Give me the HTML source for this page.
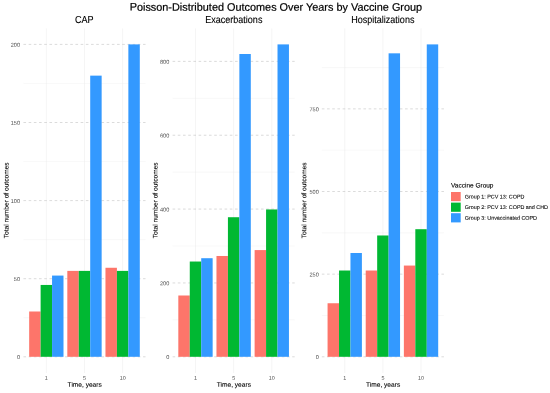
<!DOCTYPE html>
<html><head><meta charset="utf-8"><title>Poisson-Distributed Outcomes Over Years by Vaccine Group</title>
<style>html,body{margin:0;padding:0;background:#fff}svg{display:block}</style></head>
<body>
<svg width="550" height="393" viewBox="0 0 550 393" font-family="Liberation Sans, Arial, sans-serif" text-rendering="geometricPrecision">
<rect width="550" height="393" fill="#fff"/>
<text transform="translate(275.90,10.70) rotate(0.03) scale(0.999,1)" font-size="10.9" text-anchor="middle" fill="#000" stroke="#000" stroke-width="0.2">Poisson-Distributed Outcomes Over Years by Vaccine Group</text>
<line x1="23.45" x2="145.53" y1="317.75" y2="317.75" stroke="#ebebeb" stroke-width="0.35"/>
<line x1="23.45" x2="145.53" y1="239.65" y2="239.65" stroke="#ebebeb" stroke-width="0.35"/>
<line x1="23.45" x2="145.53" y1="161.55" y2="161.55" stroke="#ebebeb" stroke-width="0.35"/>
<line x1="23.45" x2="145.53" y1="83.45" y2="83.45" stroke="#ebebeb" stroke-width="0.35"/>
<line x1="46.34" x2="46.34" y1="28.4" y2="373.0" stroke="#ebebeb" stroke-width="0.5"/>
<line x1="84.49" x2="84.49" y1="28.4" y2="373.0" stroke="#ebebeb" stroke-width="0.5"/>
<line x1="122.64" x2="122.64" y1="28.4" y2="373.0" stroke="#ebebeb" stroke-width="0.5"/>
<line x1="23.45" x2="145.53" y1="356.80" y2="356.80" stroke="#c2c2c2" stroke-width="0.6" stroke-dasharray="2.6 2.6"/>
<text transform="translate(20.05,359.10) rotate(0.03) scale(0.999,1)" font-size="5.6" text-anchor="end" fill="#4d4d4d">0</text>
<line x1="23.45" x2="145.53" y1="278.70" y2="278.70" stroke="#c2c2c2" stroke-width="0.6" stroke-dasharray="2.6 2.6"/>
<text transform="translate(20.05,281.00) rotate(0.03) scale(0.999,1)" font-size="5.6" text-anchor="end" fill="#4d4d4d">50</text>
<line x1="23.45" x2="145.53" y1="200.60" y2="200.60" stroke="#c2c2c2" stroke-width="0.6" stroke-dasharray="2.6 2.6"/>
<text transform="translate(20.05,202.90) rotate(0.03) scale(0.999,1)" font-size="5.6" text-anchor="end" fill="#4d4d4d">100</text>
<line x1="23.45" x2="145.53" y1="122.50" y2="122.50" stroke="#c2c2c2" stroke-width="0.6" stroke-dasharray="2.6 2.6"/>
<text transform="translate(20.05,124.80) rotate(0.03) scale(0.999,1)" font-size="5.6" text-anchor="end" fill="#4d4d4d">150</text>
<line x1="23.45" x2="145.53" y1="44.40" y2="44.40" stroke="#c2c2c2" stroke-width="0.6" stroke-dasharray="2.6 2.6"/>
<text transform="translate(20.05,46.70) rotate(0.03) scale(0.999,1)" font-size="5.6" text-anchor="end" fill="#4d4d4d">200</text>
<rect x="29.17" y="311.50" width="11.44" height="45.30" fill="#FD756A"/>
<rect x="40.62" y="284.95" width="11.44" height="71.85" fill="#00B832"/>
<rect x="52.06" y="275.58" width="11.44" height="81.22" fill="#3399FF"/>
<rect x="67.32" y="270.89" width="11.44" height="85.91" fill="#FD756A"/>
<rect x="78.77" y="270.89" width="11.44" height="85.91" fill="#00B832"/>
<rect x="90.21" y="75.64" width="11.44" height="281.16" fill="#3399FF"/>
<rect x="105.47" y="267.77" width="11.44" height="89.03" fill="#FD756A"/>
<rect x="116.92" y="270.89" width="11.44" height="85.91" fill="#00B832"/>
<rect x="128.36" y="44.40" width="11.44" height="312.40" fill="#3399FF"/>
<text transform="translate(46.34,379.80) rotate(0.03) scale(0.999,1)" font-size="5.4" text-anchor="middle" fill="#4d4d4d">1</text>
<text transform="translate(84.49,379.80) rotate(0.03) scale(0.999,1)" font-size="5.4" text-anchor="middle" fill="#4d4d4d">5</text>
<text transform="translate(122.64,379.80) rotate(0.03) scale(0.999,1)" font-size="5.4" text-anchor="middle" fill="#4d4d4d">10</text>
<text transform="translate(84.69,386.70) rotate(0.03) scale(0.999,1)" font-size="6.6" text-anchor="middle" fill="#000" stroke="#000" stroke-width="0.1">Time, years</text>
<text transform="translate(84.19,23.35) rotate(0.03) scale(0.895,1)" font-size="10.1" text-anchor="middle" fill="#000" stroke="#000" stroke-width="0.12">CAP</text>
<text transform="translate(8.45,200.30) rotate(-89.97) scale(0.999,1)" font-size="6.6" text-anchor="middle" fill="#000" stroke="#000" stroke-width="0.1">Total number of outcomes</text>
<line x1="172.60" x2="294.68" y1="319.87" y2="319.87" stroke="#ebebeb" stroke-width="0.35"/>
<line x1="172.60" x2="294.68" y1="246.02" y2="246.02" stroke="#ebebeb" stroke-width="0.35"/>
<line x1="172.60" x2="294.68" y1="172.17" y2="172.17" stroke="#ebebeb" stroke-width="0.35"/>
<line x1="172.60" x2="294.68" y1="98.31" y2="98.31" stroke="#ebebeb" stroke-width="0.35"/>
<line x1="195.49" x2="195.49" y1="28.4" y2="373.0" stroke="#ebebeb" stroke-width="0.5"/>
<line x1="233.64" x2="233.64" y1="28.4" y2="373.0" stroke="#ebebeb" stroke-width="0.5"/>
<line x1="271.79" x2="271.79" y1="28.4" y2="373.0" stroke="#ebebeb" stroke-width="0.5"/>
<line x1="172.60" x2="294.68" y1="356.80" y2="356.80" stroke="#c2c2c2" stroke-width="0.6" stroke-dasharray="2.6 2.6"/>
<text transform="translate(169.30,359.10) rotate(0.03) scale(0.999,1)" font-size="5.6" text-anchor="end" fill="#4d4d4d">0</text>
<line x1="172.60" x2="294.68" y1="282.95" y2="282.95" stroke="#c2c2c2" stroke-width="0.6" stroke-dasharray="2.6 2.6"/>
<text transform="translate(169.30,285.25) rotate(0.03) scale(0.999,1)" font-size="5.6" text-anchor="end" fill="#4d4d4d">200</text>
<line x1="172.60" x2="294.68" y1="209.09" y2="209.09" stroke="#c2c2c2" stroke-width="0.6" stroke-dasharray="2.6 2.6"/>
<text transform="translate(169.30,211.39) rotate(0.03) scale(0.999,1)" font-size="5.6" text-anchor="end" fill="#4d4d4d">400</text>
<line x1="172.60" x2="294.68" y1="135.24" y2="135.24" stroke="#c2c2c2" stroke-width="0.6" stroke-dasharray="2.6 2.6"/>
<text transform="translate(169.30,137.54) rotate(0.03) scale(0.999,1)" font-size="5.6" text-anchor="end" fill="#4d4d4d">600</text>
<line x1="172.60" x2="294.68" y1="61.39" y2="61.39" stroke="#c2c2c2" stroke-width="0.6" stroke-dasharray="2.6 2.6"/>
<text transform="translate(169.30,63.69) rotate(0.03) scale(0.999,1)" font-size="5.6" text-anchor="end" fill="#4d4d4d">800</text>
<rect x="178.32" y="295.50" width="11.44" height="61.30" fill="#FD756A"/>
<rect x="189.77" y="261.53" width="11.44" height="95.27" fill="#00B832"/>
<rect x="201.21" y="258.21" width="11.44" height="98.59" fill="#3399FF"/>
<rect x="216.47" y="255.99" width="11.44" height="100.81" fill="#FD756A"/>
<rect x="227.92" y="217.22" width="11.44" height="139.58" fill="#00B832"/>
<rect x="239.36" y="54.00" width="11.44" height="302.80" fill="#3399FF"/>
<rect x="254.62" y="250.08" width="11.44" height="106.72" fill="#FD756A"/>
<rect x="266.07" y="209.46" width="11.44" height="147.34" fill="#00B832"/>
<rect x="277.51" y="44.40" width="11.44" height="312.40" fill="#3399FF"/>
<text transform="translate(195.49,379.80) rotate(0.03) scale(0.999,1)" font-size="5.4" text-anchor="middle" fill="#4d4d4d">1</text>
<text transform="translate(233.64,379.80) rotate(0.03) scale(0.999,1)" font-size="5.4" text-anchor="middle" fill="#4d4d4d">5</text>
<text transform="translate(271.79,379.80) rotate(0.03) scale(0.999,1)" font-size="5.4" text-anchor="middle" fill="#4d4d4d">10</text>
<text transform="translate(233.84,386.70) rotate(0.03) scale(0.999,1)" font-size="6.6" text-anchor="middle" fill="#000" stroke="#000" stroke-width="0.1">Time, years</text>
<text transform="translate(233.79,23.35) rotate(0.03) scale(0.895,1)" font-size="10.1" text-anchor="middle" fill="#000" stroke="#000" stroke-width="0.12">Exacerbations</text>
<text transform="translate(157.60,200.30) rotate(-89.97) scale(0.999,1)" font-size="6.6" text-anchor="middle" fill="#000" stroke="#000" stroke-width="0.1">Total number of outcomes</text>
<line x1="321.85" x2="443.93" y1="315.48" y2="315.48" stroke="#ebebeb" stroke-width="0.35"/>
<line x1="321.85" x2="443.93" y1="232.83" y2="232.83" stroke="#ebebeb" stroke-width="0.35"/>
<line x1="321.85" x2="443.93" y1="150.19" y2="150.19" stroke="#ebebeb" stroke-width="0.35"/>
<line x1="321.85" x2="443.93" y1="67.54" y2="67.54" stroke="#ebebeb" stroke-width="0.35"/>
<line x1="344.74" x2="344.74" y1="28.4" y2="373.0" stroke="#ebebeb" stroke-width="0.5"/>
<line x1="382.89" x2="382.89" y1="28.4" y2="373.0" stroke="#ebebeb" stroke-width="0.5"/>
<line x1="421.04" x2="421.04" y1="28.4" y2="373.0" stroke="#ebebeb" stroke-width="0.5"/>
<line x1="321.85" x2="443.93" y1="356.80" y2="356.80" stroke="#c2c2c2" stroke-width="0.6" stroke-dasharray="2.6 2.6"/>
<text transform="translate(318.85,359.10) rotate(0.03) scale(0.999,1)" font-size="5.6" text-anchor="end" fill="#4d4d4d">0</text>
<line x1="321.85" x2="443.93" y1="274.15" y2="274.15" stroke="#c2c2c2" stroke-width="0.6" stroke-dasharray="2.6 2.6"/>
<text transform="translate(318.85,276.45) rotate(0.03) scale(0.999,1)" font-size="5.6" text-anchor="end" fill="#4d4d4d">250</text>
<line x1="321.85" x2="443.93" y1="191.51" y2="191.51" stroke="#c2c2c2" stroke-width="0.6" stroke-dasharray="2.6 2.6"/>
<text transform="translate(318.85,193.81) rotate(0.03) scale(0.999,1)" font-size="5.6" text-anchor="end" fill="#4d4d4d">500</text>
<line x1="321.85" x2="443.93" y1="108.86" y2="108.86" stroke="#c2c2c2" stroke-width="0.6" stroke-dasharray="2.6 2.6"/>
<text transform="translate(318.85,111.16) rotate(0.03) scale(0.999,1)" font-size="5.6" text-anchor="end" fill="#4d4d4d">750</text>
<rect x="327.57" y="303.25" width="11.44" height="53.55" fill="#FD756A"/>
<rect x="339.02" y="270.52" width="11.44" height="86.28" fill="#00B832"/>
<rect x="350.46" y="253.00" width="11.44" height="103.80" fill="#3399FF"/>
<rect x="365.72" y="270.52" width="11.44" height="86.28" fill="#FD756A"/>
<rect x="377.17" y="235.48" width="11.44" height="121.32" fill="#00B832"/>
<rect x="388.61" y="53.33" width="11.44" height="303.47" fill="#3399FF"/>
<rect x="403.87" y="265.56" width="11.44" height="91.24" fill="#FD756A"/>
<rect x="415.32" y="229.20" width="11.44" height="127.60" fill="#00B832"/>
<rect x="426.76" y="44.40" width="11.44" height="312.40" fill="#3399FF"/>
<text transform="translate(344.74,379.80) rotate(0.03) scale(0.999,1)" font-size="5.4" text-anchor="middle" fill="#4d4d4d">1</text>
<text transform="translate(382.89,379.80) rotate(0.03) scale(0.999,1)" font-size="5.4" text-anchor="middle" fill="#4d4d4d">5</text>
<text transform="translate(421.04,379.80) rotate(0.03) scale(0.999,1)" font-size="5.4" text-anchor="middle" fill="#4d4d4d">10</text>
<text transform="translate(383.09,386.70) rotate(0.03) scale(0.999,1)" font-size="6.6" text-anchor="middle" fill="#000" stroke="#000" stroke-width="0.1">Time, years</text>
<text transform="translate(382.79,23.35) rotate(0.03) scale(0.895,1)" font-size="10.1" text-anchor="middle" fill="#000" stroke="#000" stroke-width="0.12">Hospitalizations</text>
<text transform="translate(306.35,200.30) rotate(-89.97) scale(0.999,1)" font-size="6.6" text-anchor="middle" fill="#000" stroke="#000" stroke-width="0.1">Total number of outcomes</text>
<text transform="translate(451.00,187.50) rotate(0.03) scale(0.999,1)" font-size="6.5" text-anchor="start" fill="#000" stroke="#000" stroke-width="0.12">Vaccine Group</text>
<rect x="451" y="192.00" width="9.7" height="9.2" fill="#FD756A"/>
<text transform="translate(464.80,198.45) rotate(0.03) scale(0.999,1)" font-size="5.4" text-anchor="start" fill="#000" stroke="#000" stroke-width="0.08">Group 1: PCV 13: COPD</text>
<rect x="451" y="202.60" width="9.7" height="9.2" fill="#00B832"/>
<text transform="translate(464.80,209.05) rotate(0.03) scale(0.999,1)" font-size="5.4" text-anchor="start" fill="#000" stroke="#000" stroke-width="0.08">Group 2: PCV 13: COPD and CHD</text>
<rect x="451" y="213.20" width="9.7" height="9.2" fill="#3399FF"/>
<text transform="translate(464.80,219.65) rotate(0.03) scale(0.999,1)" font-size="5.4" text-anchor="start" fill="#000" stroke="#000" stroke-width="0.08">Group 3: Unvaccinated COPD</text>
</svg>
</body></html>
